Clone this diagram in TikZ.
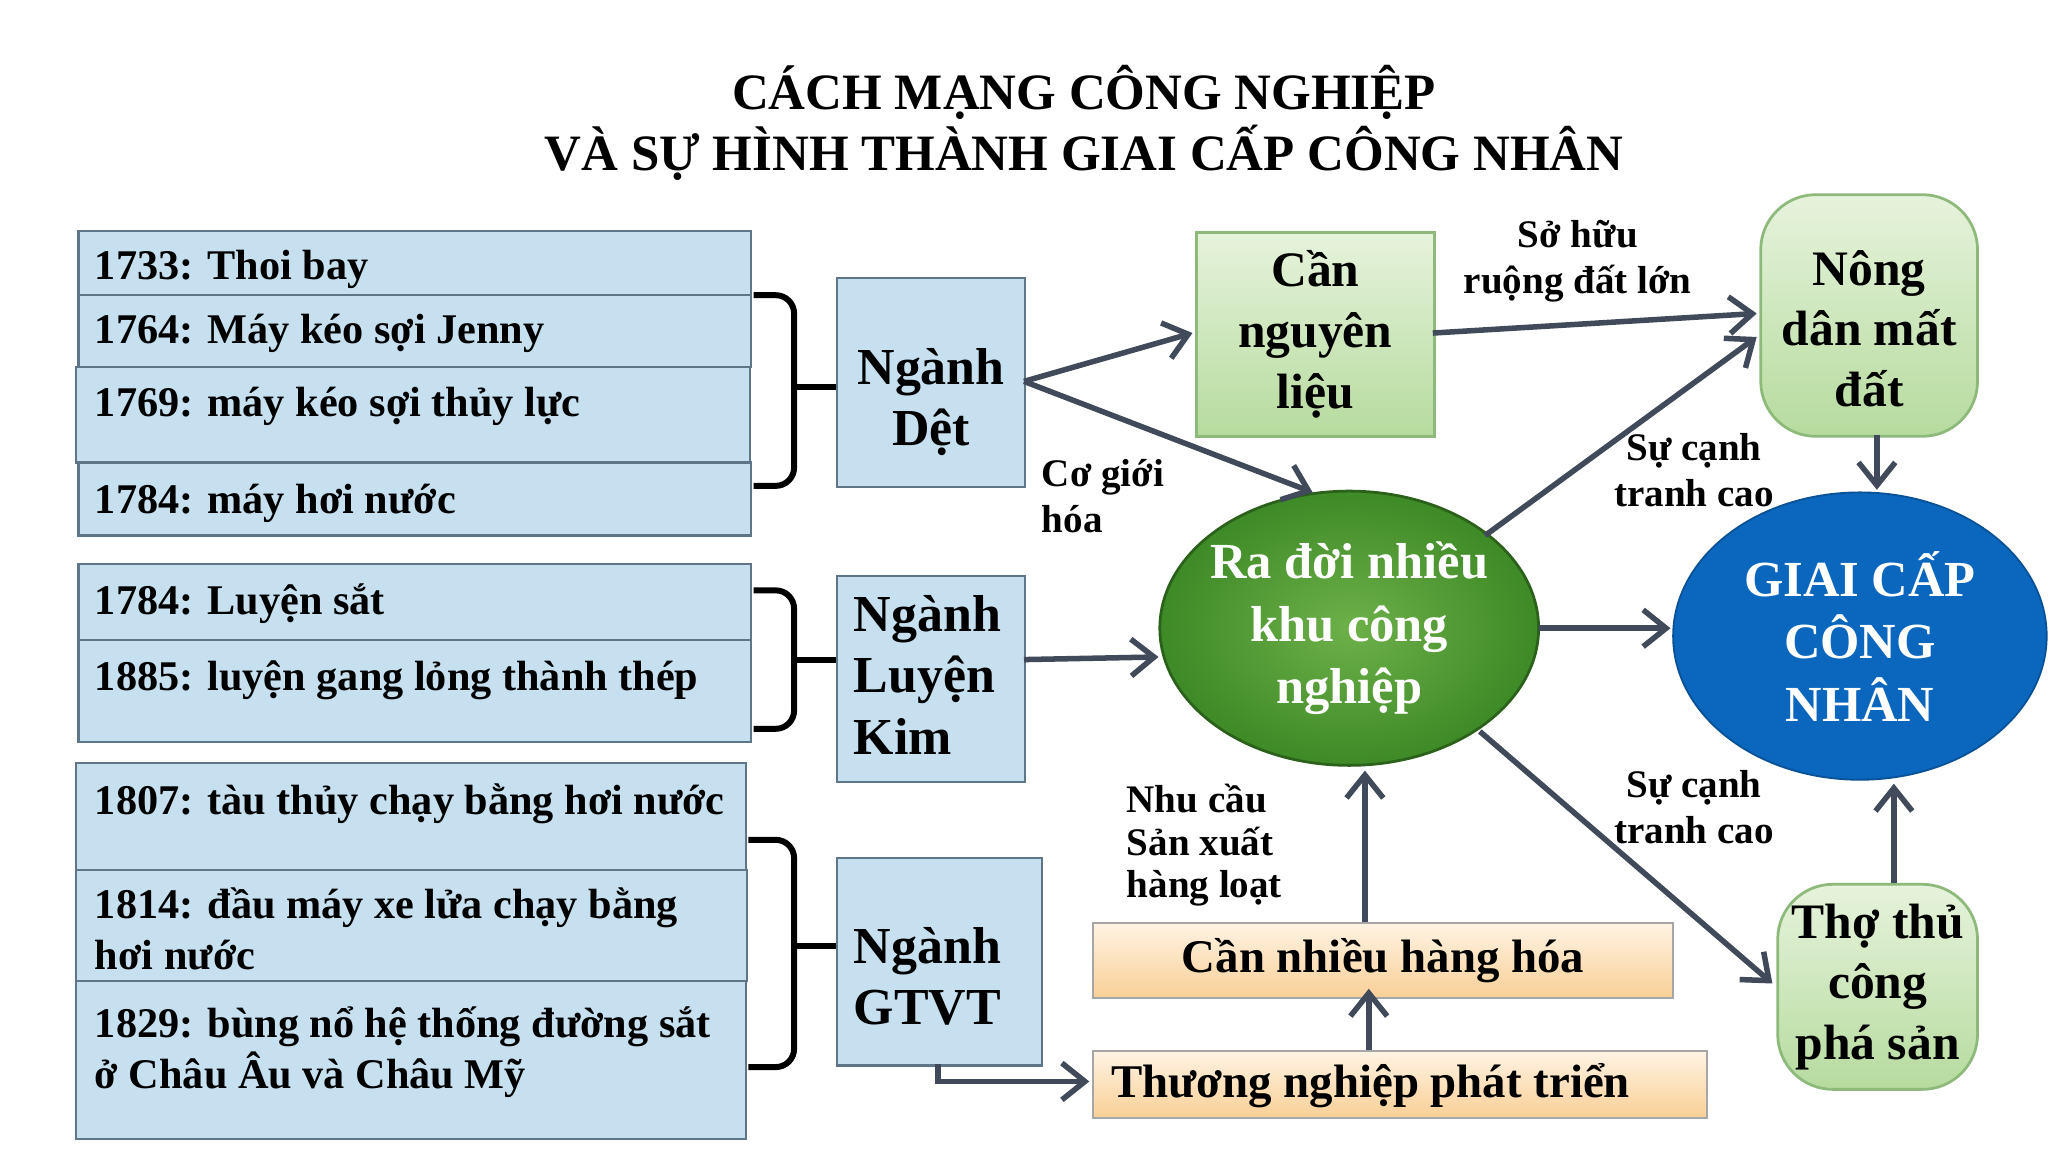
\documentclass[tikz,border=0pt]{standalone}
\usepackage{fontspec}
\setmainfont{Liberation Serif}
\usetikzlibrary{arrows.meta,shapes.geometric}
\definecolor{bluebox}{HTML}{C6E0F0}
\definecolor{blueedge}{HTML}{5F7689}
\definecolor{arrowc}{HTML}{414A5A}
\definecolor{gtop}{HTML}{E6F3DC}
\definecolor{gbot}{HTML}{B6DB9E}
\definecolor{gedge}{HTML}{8DB97A}
\definecolor{otop}{HTML}{FFF3E3}
\definecolor{obot}{HTML}{F9CF96}
\definecolor{darkg}{HTML}{3E8A26}
\definecolor{darkgt}{HTML}{6DB04A}
\definecolor{blueell}{HTML}{0B66BE}
\tikzset{
 x=0.01cm,y=-0.01cm,
 yearbox/.style={draw=blueedge,fill=bluebox,line width=0.5pt},
 yeartext/.style={anchor=north west,align=left,inner sep=0pt,font=\fontsize{9.2}{11.2}\selectfont\bfseries},
 bigbox/.style={draw=blueedge,fill=bluebox,line width=0.5pt},
 bigtext/.style={align=left,inner sep=0pt,font=\fontsize{11.3}{13.4}\selectfont\bfseries},
 greentext/.style={align=center,inner sep=0pt,font=\fontsize{10.8}{13.2}\selectfont\bfseries},
 greenbox/.style={draw=gedge,top color=gtop,bottom color=gbot,line width=0.6pt},
 orangebox/.style={draw=gray!70,top color=otop,bottom color=obot,line width=0.5pt},
 brace/.style={line width=1.3pt,black,rounded corners=4pt},
 conn/.style={line width=1.2pt,arrowc,-{Straight Barb[length=5pt,width=8pt,line width=1.2pt]}},
 lbl/.style={align=center,inner sep=0pt,font=\fontsize{8.5}{10}\selectfont\bfseries},
 elltext/.style={text=white,align=center,inner sep=0pt,font=\fontsize{11}{13.6}\selectfont\bfseries},
}
\begin{document}
\begin{tikzpicture}
\useasboundingbox (0,0) rectangle (1568,882);
\fill[white] (0,0) rectangle (1568,882);
% title
\node[align=center,inner sep=0pt,font=\fontsize{11.1}{13.3}\selectfont\bfseries] (title) at (830,94) {CÁCH MẠNG CÔNG NGHIỆP\\VÀ SỰ HÌNH THÀNH GIAI CẤP CÔNG NHÂN};
% group 1
\draw[yearbox] (60,177) rectangle (575,226);
\draw[yearbox] (60,226) rectangle (575,281);
\draw[yearbox] (58,281) rectangle (574,354);
\draw[yearbox] (60,354) rectangle (575,410);
\node[yeartext] (y1) at (72,191) {1733: Thoi bay};
\node[yeartext] (y2) at (72,240) {1764: Máy kéo sợi Jenny};
\node[yeartext] (y3) at (72,296) {1769: máy kéo sợi thủy lực};
\node[yeartext] (y4) at (72,370) {1784: máy hơi nước};
% group 2
\draw[yearbox] (60,432) rectangle (575,490);
\draw[yearbox] (60,490) rectangle (575,568);
\node[yeartext] (y5) at (72,446) {1784: Luyện sắt};
\node[yeartext] (y6) at (72,505) {1885: luyện gang lỏng thành thép};
% group 3
\draw[yearbox] (58,584) rectangle (571,666);
\draw[yearbox] (58,666) rectangle (572,751);
\draw[yearbox] (58,751) rectangle (571,872);
\node[yeartext] (y7) at (72,599) {1807: tàu thủy chạy bằng hơi nước};
\node[yeartext] (y8) at (72,679) {1814: đầu máy xe lửa chạy bằng\\hơi nước};
\node[yeartext] (y9) at (72,770) {1829: bùng nổ hệ thống đường sắt\\ở Châu Âu và Châu Mỹ};
% braces
\draw[brace] (577,226) -- (608,226) -- (608,372) -- (577,372);
\draw[line width=1.3pt] (608,296) -- (640,296);
\draw[brace] (577,452) -- (608,452) -- (608,558) -- (577,558);
\draw[line width=1.3pt] (608,505) -- (640,505);
\draw[brace] (573,643) -- (608,643) -- (608,817) -- (573,817);
\draw[line width=1.3pt] (608,724) -- (640,724);
% industries
\node[bigbox,minimum width=144*0.01cm,minimum height=160*0.01cm,anchor=north west] (det) at (640,212) {};
\node[bigtext,align=center] at ([yshift=-0.15cm]det.center) {Ngành\\Dệt};
\node[bigbox,minimum width=144*0.01cm,minimum height=158*0.01cm,anchor=north west] (lk) at (640,440) {};
\node[bigtext,anchor=north west] at (653,455) {Ngành\\Luyện\\Kim};
\node[bigbox,minimum width=157*0.01cm,minimum height=159*0.01cm,anchor=north west] (gt) at (640,656) {};
\node[bigtext,anchor=north west] at (653,709) {Ngành\\GTVT};
% green boxes
\node[greenbox,minimum width=182*0.01cm,minimum height=156*0.01cm,anchor=north west] (cnl) at (915,177) {};
\node[greentext] at (cnl.center) {Cần\\nguyên\\liệu};
\node[greenbox,rounded corners=12pt,minimum width=166*0.01cm,minimum height=185*0.01cm,anchor=north west] (nd) at (1347,148) {};
\node[greentext] at ([yshift=-0.1cm]nd.center) {Nông\\dân mất\\đất};
\node[greenbox,rounded corners=12pt,minimum width=153*0.01cm,minimum height=157*0.01cm,anchor=north west] (tho) at (1360,676) {};
\node[greentext] at (tho.center) {Thợ thủ\\công\\phá sản};
% ellipses
\draw[draw=darkg!70!black,line width=0.6pt,inner color=darkgt,outer color=darkg] (1033,481) ellipse [x radius=145, y radius=105];
\node[elltext] (kcn) at (1033,481) {Ra đời nhiều\\khu công\\nghiệp};
\draw[draw=blueell!80!black,fill=blueell] (1424,487) ellipse [x radius=143, y radius=110];
\node[elltext] (gccn) at (1424,487) {GIAI CẤP\\CÔNG\\NHÂN};
% orange boxes
\node[orangebox,minimum width=444*0.01cm,minimum height=50*0.01cm,anchor=north west,font=\fontsize{10.2}{12}\selectfont\bfseries] (cnh) at (836,706) {Cần nhiều hàng hóa};
\node[orangebox,minimum width=470*0.01cm,minimum height=51*0.01cm,anchor=north west] (tn) at (836,804) {};
\node[anchor=west,inner sep=0pt,font=\fontsize{10.2}{12}\selectfont\bfseries] at (850,831) {Thương nghiệp phát triển};
% connectors
\coordinate (detR) at (784,292);
\draw[conn] (detR) -- (913,255);
\draw[conn] (detR) -- (1005,377);
\draw[conn] (1097,255) -- (1345,240);
\draw[conn] (1137,410) -- (1345,258);
\draw[conn] (1437,333) -- (1437,375);
\draw[conn] (1178,481) -- (1279,481);
\draw[conn] (1133,560) -- (1357,753);
\draw[conn] (1450,676) -- (1450,600);
\draw[conn] (784,505) -- (887,503);
\draw[conn] (1045,706) -- (1045,590);
\draw[conn] (1048,804) -- (1048,757);
\draw[conn] (718,815) -- (718,828) -- (834,828);
% labels
\node[lbl] (l1) at (1208,200) {Sở hữu\\ruộng đất lớn};
\node[lbl] (l2) at (1297,360) {Sự cạnh\\tranh cao};
\node[lbl] (l3) at (1297,618) {Sự cạnh\\tranh cao};
\node[lbl,align=left,anchor=north west] (l4) at (797,351) {Cơ giới\\hóa};
\node[lbl,align=left,anchor=north west,font=\fontsize{8.5}{9.2}\selectfont\bfseries] (l5) at (862,600) {Nhu cầu\\Sản xuất\\hàng loạt};
\end{tikzpicture}
\end{document}
